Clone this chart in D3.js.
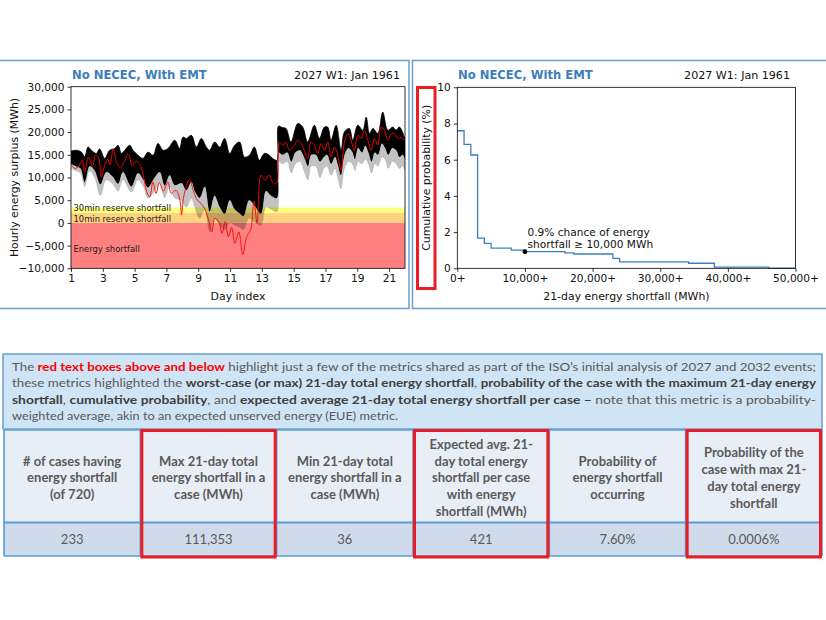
<!DOCTYPE html>
<html><head><meta charset="utf-8">
<script src="https://cdn.jsdelivr.net/npm/d3@7"></script>
<style>
html,body{margin:0;padding:0;background:#fff;}
svg{display:block;}
</style></head>
<body>
<svg id="chart" width="826" height="620"></svg>
<script>
// ---------------- DATA ----------------
const chartTitle = "No NECEC, With EMT";
const chartSubtitle = "2027 W1: Jan 1961";
const dayTicks = [1,3,5,7,9,11,13,15,17,19,21];
const surplusTicks = [-10000,-5000,0,5000,10000,15000,20000,25000,30000];

// shaded regions of the left chart
const bandLabels = ["Energy shortfall","10min reserve shortfall","30min reserve shortfall"];
const bandLow = [-10000, 0, 2200];
const bandHigh = [0, 2200, 3400];
const bandLabelAt = [-5700, 900, 3300];

// upper envelope of the 720 simulated cases [day, MWh]
const caseTop = [[1.0,15800],[1.33,16000],[1.65,15600],[1.86,14600],[2.07,16700],[2.28,16000],[2.59,15300],[2.8,16300],[3.12,14200],[3.43,16000],[3.75,16400],[3.96,17100],[4.17,15300],[4.38,16000],[4.69,17100],[4.9,16000],[5.21,14900],[5.53,14200],[5.84,15600],[6.16,14900],[6.47,17500],[6.79,16000],[7.1,16400],[7.52,18200],[7.83,16400],[8.04,18900],[8.25,18600],[8.57,19300],[8.88,16700],[9.2,18600],[9.51,16700],[9.72,16000],[10.03,17800],[10.35,16700],[10.66,18600],[10.98,15300],[11.29,17100],[11.6,17800],[11.9,14500],[12.22,14900],[12.53,16700],[12.84,13800],[13.16,15300],[13.47,14900],[13.68,14200],[13.95,13800],[14.05,21300],[14.3,21000],[14.52,20800],[14.83,17800],[15.26,21900],[15.57,21100],[15.88,17800],[16.3,21500],[16.62,18600],[16.93,21100],[17.14,21100],[17.35,18200],[17.67,21500],[17.98,16000],[18.19,20000],[18.5,20800],[18.72,18200],[19.03,21500],[19.35,20400],[19.56,23300],[19.77,19700],[19.98,20800],[20.29,19700],[20.6,24400],[20.92,20400],[21.23,21100],[21.44,20400],[21.65,21100],[21.96,18900],[22.0,18300]];

// lower edge of the dense bundle and lower tails [MWh] at these days
const lowDays = [1.0,1.3,1.6,1.86,2.17,2.49,2.85,3.22,3.64,3.96,4.27,4.79,5.21,5.55,5.84,6.26,6.58,6.89,7.2,7.52,7.94,8.25,8.57,8.78,9.09,9.41,9.72,10.03,10.35,10.66,10.98,11.29,11.63,11.85,12.2,12.6,12.95,13.26,13.58,13.95,14.05,14.3,14.6,14.85,15.1,15.4,15.65,15.9,16.1,16.4,16.65,16.9,17.1,17.35,17.6,17.8,17.97,18.2,18.45,18.7,18.85,19.05,19.3,19.5,19.7,19.9,20.1,20.3,20.55,20.75,20.95,21.2,21.45,21.65,21.85,22.0];
const denseLow = [13000,12500,12000,9000,12500,11500,8500,11200,10100,8600,11200,8000,11000,9500,7800,10000,11200,8200,10500,8300,8800,7200,9000,7000,5500,8000,2500,6000,3500,2000,5000,3000,2000,1500,5000,3500,2000,7000,6000,5500,15500,15000,15500,13500,15500,16000,14500,12500,15000,15000,13500,14500,15000,13000,14500,12500,10500,15000,16500,15500,14000,16500,15500,17000,15500,13500,15500,15000,17500,16500,15000,16500,16000,14500,15000,14000];
const tailLow = [12000,11500,11000,8000,11500,10000,6000,9500,8500,7000,9500,6800,9500,8000,5500,7000,9000,5500,8000,5500,5000,3500,5500,3500,1000,3000,-2000,1000,-500,-1500,0,-500,-1000,-1500,1000,0,-500,3500,3000,2500,13500,13000,13500,11000,13000,13500,11500,9500,12500,12500,10000,12000,12500,10500,12000,9500,7500,12000,13500,13000,11500,13500,13000,14000,13000,11000,13000,12500,14500,14000,12000,13500,13000,12000,12500,11500];

// highlighted (red) case [day, MWh]
const redCase = [[1.0,12800],[1.25,12000],[1.5,12500],[1.7,13800],[1.86,11200],[2.1,14500],[2.35,12500],[2.55,15000],[2.75,14200],[2.9,10000],[3.1,12500],[3.3,14000],[3.45,12800],[3.65,16200],[3.9,13000],[4.1,12200],[4.35,13500],[4.6,15200],[4.85,12500],[5.1,13600],[5.35,12800],[5.55,10500],[5.75,7000],[5.95,5700],[6.15,9000],[6.35,6500],[6.55,8900],[6.8,7000],[7.1,9000],[7.3,6500],[7.6,7200],[7.85,5000],[7.95,1800],[8.1,6000],[8.45,9600],[8.7,7000],[8.95,5000],[9.2,4200],[9.45,2800],[9.65,600],[9.85,-2000],[10.05,1000],[10.3,200],[10.5,-2300],[10.7,300],[10.9,-3000],[11.1,-1000],[11.3,-4500],[11.55,-2000],[11.8,-7000],[12.05,-3000],[12.3,-1500],[12.5,4800],[12.7,0],[12.95,10500],[13.2,9400],[13.45,10500],[13.75,8600],[13.95,9000],[14.1,17800],[14.31,17100],[14.52,17800],[14.73,16000],[15.05,17100],[15.26,18200],[15.46,17500],[15.67,16000],[15.88,14200],[16.09,17800],[16.3,17100],[16.51,15300],[16.72,17500],[16.93,16000],[17.14,17800],[17.35,14600],[17.56,16700],[17.77,14900],[17.98,11600],[18.19,17800],[18.4,19700],[18.61,18200],[18.82,16000],[19.03,19300],[19.24,18600],[19.45,20400],[19.66,18200],[19.87,16000],[20.08,18600],[20.29,17100],[20.5,21100],[20.71,20400],[20.92,18200],[21.13,19700],[21.34,19700],[21.54,18600],[21.75,18900],[21.96,18200]];

// right chart: cumulative probability step curve
const shortfallTicks = [0,10000,20000,30000,40000,50000];
const probTicks = [0,2,4,6,8,10];
const shortfallMWh = [0,1000,2000,3000,4000,5000,8000,10000,15900,17200,23000,24000,34200,38000,46000,50000];
const cumProbPct = [7.6,6.85,6.26,1.67,1.38,1.12,1.0,0.92,0.85,0.79,0.55,0.35,0.28,0.07,0.01,0.01];
const markerPoint = [10000, 0.92];
const markerText = ["0.9% chance of energy", "shortfall \u2265 10,000 MWh"];

// info box text segments: n = normal, b = bold, r = red bold
const infoLines = [
 [["The ","n"],["red text boxes above and below","r"],[" highlight just a few of the metrics shared as part of the ISO\u2019s initial analysis of 2027 and 2032 events;","n"]],
 [["these metrics highlighted the ","n"],["worst-case (or max) 21-day total energy shortfall","b"],[", ","n"],["probability of the case with the maximum 21-day energy","b"]],
 [["shortfall","b"],[", ","n"],["cumulative probability","b"],[", and ","n"],["expected average 21-day total energy shortfall per case \u2013","b"],[" note that this metric is a probability-","n"]],
 [["weighted average, akin to an expected unserved energy (EUE) metric.","n"]]
];

// table
const columnHeaders = [
 ["# of cases having","energy shortfall","(of 720)"],
 ["Max 21-day total","energy shortfall in a","case (MWh)"],
 ["Min 21-day total","energy shortfall in a","case (MWh)"],
 ["Expected avg. 21-","day total energy","shortfall per case","with energy","shortfall (MWh)"],
 ["Probability of","energy shortfall","occurring"],
 ["Probability of the","case with max 21-","day total energy","shortfall"]
];
const columnValues = ["233","111,353","36","421","7.60%","0.0006%"];
const highlighted = [false,true,false,true,false,true];

// ---------------- DRAWING ----------------
const svg = d3.select("#chart");
const FONT = "DejaVu Sans, sans-serif";
const TFONT = "Lato, 'Open Sans', sans-serif";
const bandColors = ["#ff8080","#ffd280","#ffff80"];
const titleBlue = "#3b7dbd";
const frameBlue = "#6b9fcb";
const hiRed = "#ec1c24";

// panel frames
svg.append("rect").attr("x",-2).attr("y",60.5).attr("width",411).attr("height",248)
  .attr("fill","none").attr("stroke",frameBlue).attr("stroke-width",1.5);
svg.append("rect").attr("x",412.5).attr("y",60.5).attr("width",416).attr("height",248)
  .attr("fill","none").attr("stroke",frameBlue).attr("stroke-width",1.5);

// ---------- Left chart ----------
const xL = d3.scaleLinear().domain([1,22]).range([71,405]);
const yL = d3.scaleLinear().domain([-10000,30000]).range([268.3,86.7]);

svg.append("defs").append("clipPath").attr("id","clipL").append("rect")
  .attr("x",xL(1)).attr("y",yL(30000)).attr("width",xL(22)-xL(1)).attr("height",yL(-10000)-yL(30000));

const gL = svg.append("g");
gL.selectAll("rect.band").data(bandLabels).join("rect")
  .attr("x",xL(1)).attr("width",xL(22)-xL(1))
  .attr("y",(d,i)=>yL(bandHigh[i])).attr("height",(d,i)=>yL(bandLow[i])-yL(bandHigh[i]))
  .attr("fill",(d,i)=>bandColors[i]);

const plotL = gL.append("g").attr("clip-path","url(#clipL)");
const lineGen = d3.line().x(d=>xL(d[0])).y(d=>yL(d[1])).curve(d3.curveCatmullRom.alpha(0.5));
const denseLowPts = lowDays.map((d,i)=>[d,denseLow[i]]);
const tailLowPts = lowDays.map((d,i)=>[d,tailLow[i]]);

// lower tails (grey)
const tailPath = lineGen(denseLowPts) + lineGen(tailLowPts.slice().reverse()).replace(/^M/,"L") + "Z";
plotL.append("path").attr("d",tailPath).attr("fill","#000").attr("fill-opacity",0.24);
plotL.append("path").attr("d",lineGen(tailLowPts)).attr("fill","none").attr("stroke","#777").attr("stroke-opacity",0.35).attr("stroke-width",0.6);
// dense bundle (black)
const densePath = lineGen(caseTop) + lineGen(denseLowPts.slice().reverse()).replace(/^M/,"L") + "Z";
plotL.append("path").attr("d",densePath).attr("fill","#000");
plotL.append("path").attr("d",lineGen(caseTop)).attr("fill","none").attr("stroke","#000").attr("stroke-width",0.8);
// red case
plotL.append("path").attr("d",lineGen(redCase)).attr("fill","none").attr("stroke","#ff0000").attr("stroke-width",0.9);

// band labels
gL.selectAll("text.bl").data(bandLabels).join("text")
  .attr("x",xL(1)+2.5).attr("y",(d,i)=>yL(bandLabelAt[i])).attr("dy","0.35em")
  .attr("font-family",FONT).attr("font-size",8.4).attr("fill","#1a1a1a").text(d=>d);

// axes left
const axL = gL.append("g").attr("transform",`translate(${xL(1)},0)`)
  .call(d3.axisLeft(yL).tickValues(surplusTicks).tickFormat(d3.format(",")).tickSize(3.5).tickPadding(3));
const axB = gL.append("g").attr("transform",`translate(0,${yL(-10000)})`)
  .call(d3.axisBottom(xL).tickValues(dayTicks).tickFormat(d3.format("d")).tickSize(3.5).tickPadding(3));
[axL,axB].forEach(a=>{a.select(".domain").remove();
  a.selectAll("text").attr("font-family",FONT).attr("font-size",10.6).attr("fill","#111");
  a.selectAll("line").attr("stroke","#000").attr("stroke-width",0.8);});
gL.append("rect").attr("x",xL(1)).attr("y",yL(30000)).attr("width",xL(22)-xL(1)).attr("height",yL(-10000)-yL(30000))
  .attr("fill","none").attr("stroke","#000").attr("stroke-width",0.8);

gL.append("text").attr("x",72).attr("y",79).attr("font-family",FONT).attr("font-size",11.6)
  .attr("font-weight","bold").attr("fill",titleBlue).text(chartTitle);
gL.append("text").attr("x",400).attr("y",79).attr("text-anchor","end").attr("font-family",FONT)
  .attr("font-size",11.1).attr("fill","#111").text(chartSubtitle);
gL.append("text").attr("transform",`translate(17.5,${(yL(30000)+yL(-10000))/2}) rotate(-90)`)
  .attr("text-anchor","middle").attr("font-family",FONT).attr("font-size",10.9).attr("fill","#111")
  .text("Hourly energy surplus (MWh)");
gL.append("text").attr("x",(xL(1)+xL(22))/2).attr("y",299.5).attr("text-anchor","middle")
  .attr("font-family",FONT).attr("font-size",10.9).attr("fill","#111").text("Day index");

// ---------- Right chart ----------
const xR = d3.scaleLinear().domain([0,50000]).range([457.3,795.5]);
const yR = d3.scaleLinear().domain([0,10]).range([268.3,87.3]);
const gR = svg.append("g");
const stepLine = d3.line().x((d,i)=>xR(d)).y((d,i)=>yR(cumProbPct[i])).curve(d3.curveStepAfter);
gR.append("path").attr("d",stepLine(shortfallMWh)).attr("fill","none").attr("stroke","#3c7fc0").attr("stroke-width",1.3);
gR.append("circle").attr("cx",xR(markerPoint[0])).attr("cy",yR(markerPoint[1])).attr("r",2.4).attr("fill","#000");
gR.selectAll("text.mk").data(markerText).join("text")
  .attr("x",xR(markerPoint[0])+2.5).attr("y",(d,i)=>235.5+i*12.5)
  .attr("font-family",FONT).attr("font-size",10.6).attr("fill","#111").attr("xml:space","preserve")
  .style("white-space","pre").text(d=>d);

const axRL = gR.append("g").attr("transform",`translate(${xR(0)},0)`)
  .call(d3.axisLeft(yR).tickValues(probTicks).tickFormat(d3.format("d")).tickSize(3.5).tickPadding(3));
const axRB = gR.append("g").attr("transform",`translate(0,${yR(0)})`)
  .call(d3.axisBottom(xR).tickValues(shortfallTicks).tickFormat(d=>d3.format(",")(d)+"+").tickSize(3.5).tickPadding(3));
[axRL,axRB].forEach(a=>{a.select(".domain").remove();
  a.selectAll("text").attr("font-family",FONT).attr("font-size",10.6).attr("fill","#111");
  a.selectAll("line").attr("stroke","#000").attr("stroke-width",0.8);});
gR.append("rect").attr("x",xR(0)).attr("y",yR(10)).attr("width",xR(50000)-xR(0)).attr("height",yR(0)-yR(10))
  .attr("fill","none").attr("stroke","#000").attr("stroke-width",0.8);

gR.append("text").attr("x",458).attr("y",79).attr("font-family",FONT).attr("font-size",11.6)
  .attr("font-weight","bold").attr("fill",titleBlue).text(chartTitle);
gR.append("text").attr("x",790).attr("y",79).attr("text-anchor","end").attr("font-family",FONT)
  .attr("font-size",11.1).attr("fill","#111").text(chartSubtitle);
gR.append("text").attr("transform",`translate(429.5,${(yR(10)+yR(0))/2}) rotate(-90)`)
  .attr("text-anchor","middle").attr("font-family",FONT).attr("font-size",10.9).attr("fill","#111")
  .text("Cumulative probability (%)");
gR.append("text").attr("x",(xR(0)+xR(50000))/2).attr("y",299.5).attr("text-anchor","middle")
  .attr("font-family",FONT).attr("font-size",10.9).attr("fill","#111").text("21-day energy shortfall (MWh)");
gR.append("rect").attr("x",417.5).attr("y",87.5).attr("width",17.5).attr("height",201)
  .attr("fill","none").attr("stroke",hiRed).attr("stroke-width",3);

// ---------- Info box ----------
const gI = svg.append("g");
gI.append("rect").attr("x",3).attr("y",354).attr("width",819).attr("height",75)
  .attr("fill","#cfe4f4").attr("stroke",frameBlue).attr("stroke-width",1.5);
const lineWidths = [804, 804, 804, 386];
infoLines.forEach((segs,li)=>{
  const t = gI.append("text").attr("x",12).attr("y",370.5+li*16.6)
    .attr("font-family",TFONT).attr("font-size",12).attr("xml:space","preserve").style("white-space","pre")
    .attr("textLength",lineWidths[li]).attr("lengthAdjust","spacingAndGlyphs");
  segs.forEach(s=>{
    t.append("tspan").text(s[0])
      .attr("font-weight", s[1]==="n" ? "normal" : "bold")
      .attr("fill", s[1]==="r" ? "#ff0000" : (s[1]==="b" ? "#404040" : "#595959"));
  });
});

// ---------- Table ----------
const gT = svg.append("g");
const tX0 = 4, tX1 = 822, colW = (tX1 - tX0)/columnHeaders.length;
const hTop = 430, hBot = 522.5, vBot = 556;
gT.append("rect").attr("x",tX0).attr("y",hTop).attr("width",tX1-tX0).attr("height",hBot-hTop).attr("fill","#e8eef6");
gT.append("rect").attr("x",tX0).attr("y",hBot).attr("width",tX1-tX0).attr("height",vBot-hBot).attr("fill","#cfdbea");
// grid lines
for (let i=0;i<=columnHeaders.length;i++){
  gT.append("line").attr("x1",tX0+i*colW).attr("x2",tX0+i*colW).attr("y1",hTop).attr("y2",vBot)
    .attr("stroke","#5b9bd5").attr("stroke-width",1.6);
}
[hTop,hBot,vBot].forEach(y=>gT.append("line").attr("x1",tX0).attr("x2",tX1).attr("y1",y).attr("y2",y)
  .attr("stroke","#5b9bd5").attr("stroke-width",y===hBot?2:1.6));

columnHeaders.forEach((lines,ci)=>{
  const cx = tX0 + (ci+0.5)*colW;
  const lh = 16.8, cy = 477.8;
  lines.forEach((ln,k)=>{
    gT.append("text").attr("x",cx).attr("y",cy + (k-(lines.length-1)/2)*lh).attr("dy","0.36em")
      .attr("text-anchor","middle").attr("font-family",TFONT).attr("font-size",13)
      .attr("font-weight","bold").attr("fill","#5a5a5a").text(ln);
  });
  gT.append("text").attr("x",cx).attr("y",(hBot+vBot)/2).attr("dy","0.36em")
    .attr("text-anchor","middle").attr("font-family",TFONT).attr("font-size",13)
    .attr("fill","#5a5a5a").text(columnValues[ci]);
  if (highlighted[ci]) {
    gT.append("rect").attr("x",tX0+ci*colW+1.5).attr("y",hTop+0.5).attr("width",colW-3).attr("height",vBot-hTop+0.5)
      .attr("fill","none").attr("stroke",hiRed).attr("stroke-width",3);
  }
});
</script>
</body></html>
